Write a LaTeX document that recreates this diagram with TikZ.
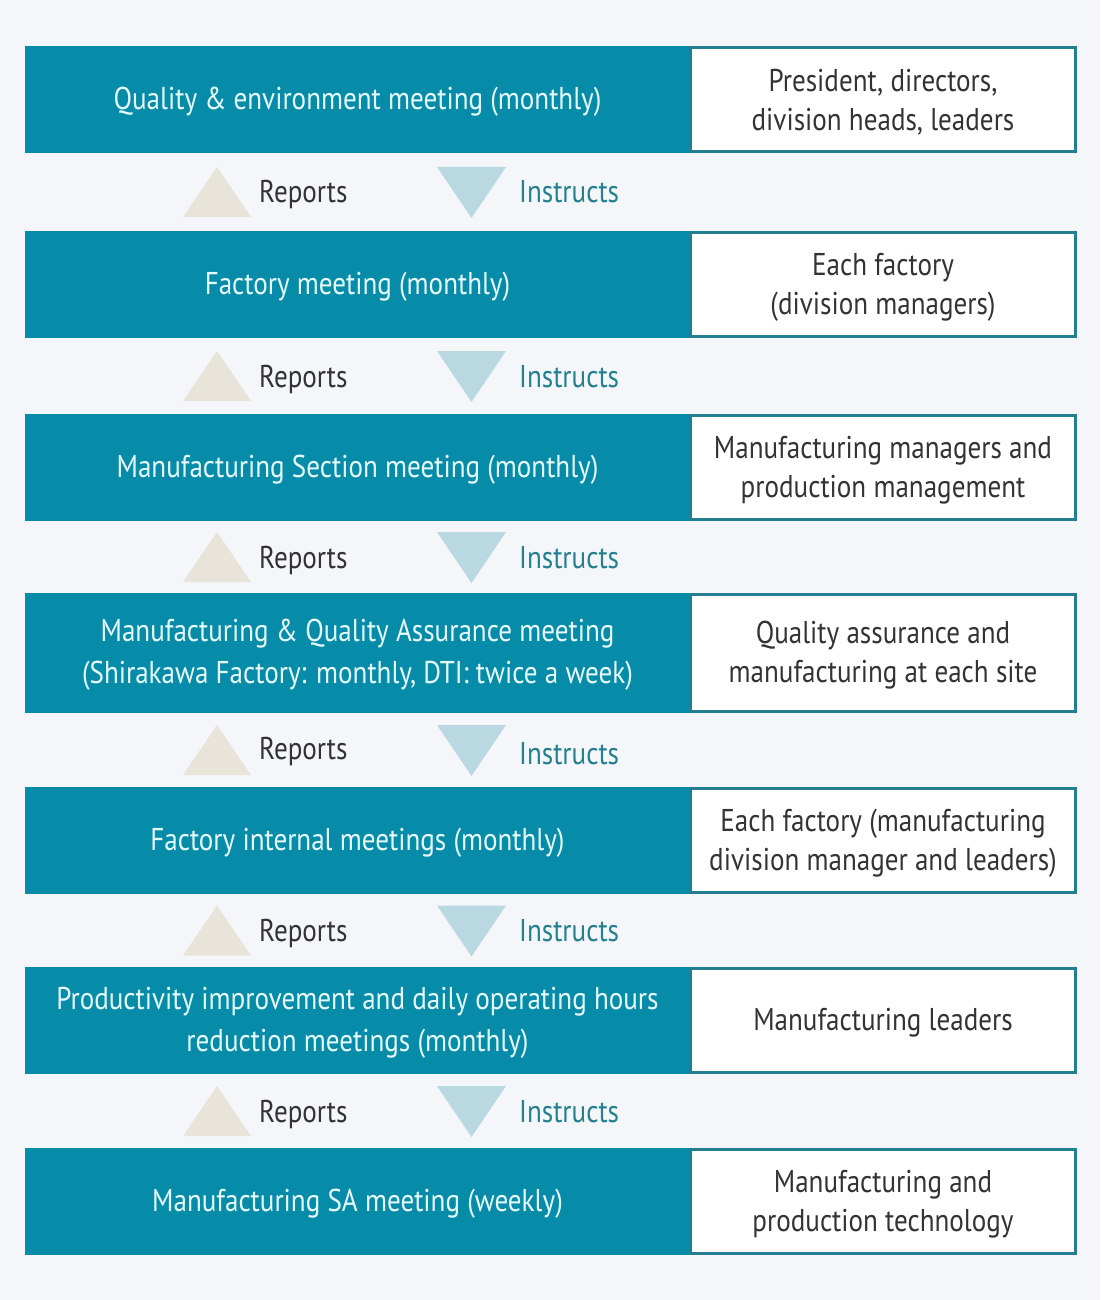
\documentclass[tikz,border=0pt]{standalone}
\usepackage{fontspec}
\setmainfont{PT Sans}[FakeStretch=0.86]
\definecolor{bg}{HTML}{F4F6FA}
\definecolor{teal}{HTML}{068BA9}
\definecolor{dteal}{HTML}{237E8F}
\definecolor{bandtxt}{HTML}{E6FBFB}
\definecolor{roletxt}{HTML}{333333}
\definecolor{uptri}{HTML}{E8E4D9}
\definecolor{dntri}{HTML}{BAD8E1}
\definecolor{instr}{HTML}{23808F}
\tikzset{
  txt/.style={font=\fontsize{31.5}{42}\selectfont, align=center, inner sep=0pt},
  mtxt/.style={txt, text=bandtxt, yshift=-2pt},
  rtxt/.style={txt, font=\fontsize{31.5}{39}\selectfont, text=roletxt, yshift=-2.5pt},
  band/.style={txt, fill=teal, text=bandtxt, minimum width=1052pt, minimum height=#1, anchor=west},
  role/.style={txt, fill=white, draw=dteal, line width=3pt, text=roletxt, minimum width=385pt, minimum height=#1},
  replbl/.style={txt, text=roletxt, anchor=base west},
  inslbl/.style={txt, text=instr, anchor=base west},
}
\begin{document}
\begin{tikzpicture}[x=1pt,y=-1pt]
\fill[bg] (0,0) rectangle (1100,1300);
\useasboundingbox (0,0) rectangle (1100,1300);
% rows: centre y, height
\foreach \i/\c/\h in {1/99.5/107, 2/284.5/107, 3/467.5/107, 4/653/120, 5/840.5/107, 6/1020.5/107, 7/1201.5/107} {
  \node[band=\h pt] (b\i) at (25,\c) {};
  \node[role=\h pt-3pt] (r\i) at (883,\c) {};
}
% meeting texts
\node[mtxt] (m1) at (357.5,99.5) {Quality \& environment meeting (monthly)};
\node[mtxt] (m2) at (357.5,284.5) {Factory meeting (monthly)};
\node[mtxt] (m3) at (357.5,467.5) {Manufacturing Section meeting (monthly)};
\node[mtxt] (m4) at (357.5,653) {Manufacturing \& Quality Assurance meeting\\(Shirakawa Factory: monthly, DTI: twice a week)};
\node[mtxt] (m5) at (357.5,840.5) {Factory internal meetings (monthly)};
\node[mtxt] (m6) at (357.5,1020.5) {Productivity improvement and daily operating hours\\reduction meetings (monthly)};
\node[mtxt] (m7) at (357.5,1201.5) {Manufacturing SA meeting (weekly)};
% role texts
\node[rtxt] (t1) at (r1) {President, directors,\\division heads, leaders};
\node[rtxt] (t2) at (r2) {Each factory\\(division managers)};
\node[rtxt] (t3) at (r3) {Manufacturing managers and\\production management};
\node[rtxt] (t4) at (r4) {Quality assurance and\\manufacturing at each site};
\node[rtxt] (t5) at (r5) {Each factory (manufacturing\\division manager and leaders)};
\node[rtxt] (t6) at (r6) {Manufacturing leaders};
\node[rtxt] (t7) at (r7) {Manufacturing and\\production technology};
% gaps
\foreach \g/\c/\ro/\io in {1/192/0/0, 2/376/0/0, 3/557/0/0, 4/750/-2/3, 5/930.5/0/0, 6/1111/0/0} {
  \coordinate (g\g) at (0,\c);
  \fill[uptri] (183,\c+25) -- (217,\c-25) -- (251,\c+25) -- cycle;
  \fill[dntri] (437,\c-25) -- (471.5,\c+26) -- (506,\c-25) -- cycle;
  \node[replbl] (rep\g) at (259,\c+11+\ro) {Reports};
  \node[inslbl] (ins\g) at (519,\c+11+\io) {Instructs};
}
\end{tikzpicture}
\end{document}
